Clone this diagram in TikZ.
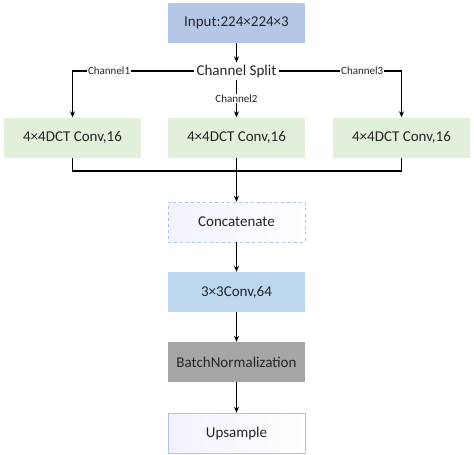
\documentclass[tikz,border=0pt]{standalone}
\usepackage{fontspec}
\setmainfont{Carlito}
\usepackage{xcolor}
\usetikzlibrary{positioning,calc,arrows.meta}

\definecolor{inblue}{RGB}{180,199,231}
\definecolor{convgreen}{RGB}{226,239,218}
\definecolor{convblue}{RGB}{189,215,238}
\definecolor{bngray}{RGB}{166,166,166}
\definecolor{edgeblue}{RGB}{172,199,228}

\begin{document}
\begin{tikzpicture}[x=1pt,y=-1pt,
        box/.style={minimum width=137pt, minimum height=40pt, inner sep=0pt, font=\fontsize{15}{17}\selectfont, text=black!85},
        lbl/.style={fill=white, inner sep=1pt, font=\fontsize{11}{12}\selectfont, text=black!85},
        line/.style={line width=1.2pt},
        arr/.style={line width=1.2pt, -{Stealth[length=6pt,width=5pt]}}]
        \useasboundingbox (0,0) rectangle (474,455);
        % Blocks
        \node[box, fill=inblue] (input) at (236.5,23) {Input:224×224×3};
        \node[fill=white, inner sep=2pt, font=\fontsize{15}{17}\selectfont, text=black!85] (split) at (236.5,71) {Channel Split};
        \node[box, fill=convgreen] (dct1) at (72.5,137.5) {4×4DCT Conv,16};
        \node[box, fill=convgreen] (dct2) at (236.5,137.5) {4×4DCT Conv,16};
        \node[box, fill=convgreen] (dct3) at (401.5,137.5) {4×4DCT Conv,16};
        \node[box, draw=edgeblue, dashed, left color=blue!5, right color=white] (concat) at (236.5,222) {Concatenate};
        \node[box, fill=convblue] (conv) at (236.5,292) {3×3Conv,64};
        \node[box, fill=bngray] (bn) at (236.5,362) {BatchNormalization};
        \node[box, draw=edgeblue, left color=blue!5, right color=white] (up) at (236.5,433) {Upsample};
        \coordinate (merge) at (236.5,171);

        % Connectors
        \draw[arr] (input) -- (split);
        \draw[arr] (split.west) -| node[lbl, pos=0.35] {Channel1} (dct1.north);
        \draw[arr] (split) -- node[lbl] {Channel2} (dct2.north);
        \draw[arr] (split.east) -| node[lbl, pos=0.34] {Channel3} (dct3.north);
        \draw[line] (dct1.south) |- (merge);
        \draw[line] (dct3.south) |- (merge);
        \draw[arr] (dct2.south) -- (concat.north);
        \draw[arr] (concat) -- (conv);
        \draw[arr] (conv) -- (bn);
        \draw[arr] (bn) -- (up);
\end{tikzpicture}
\end{document}
